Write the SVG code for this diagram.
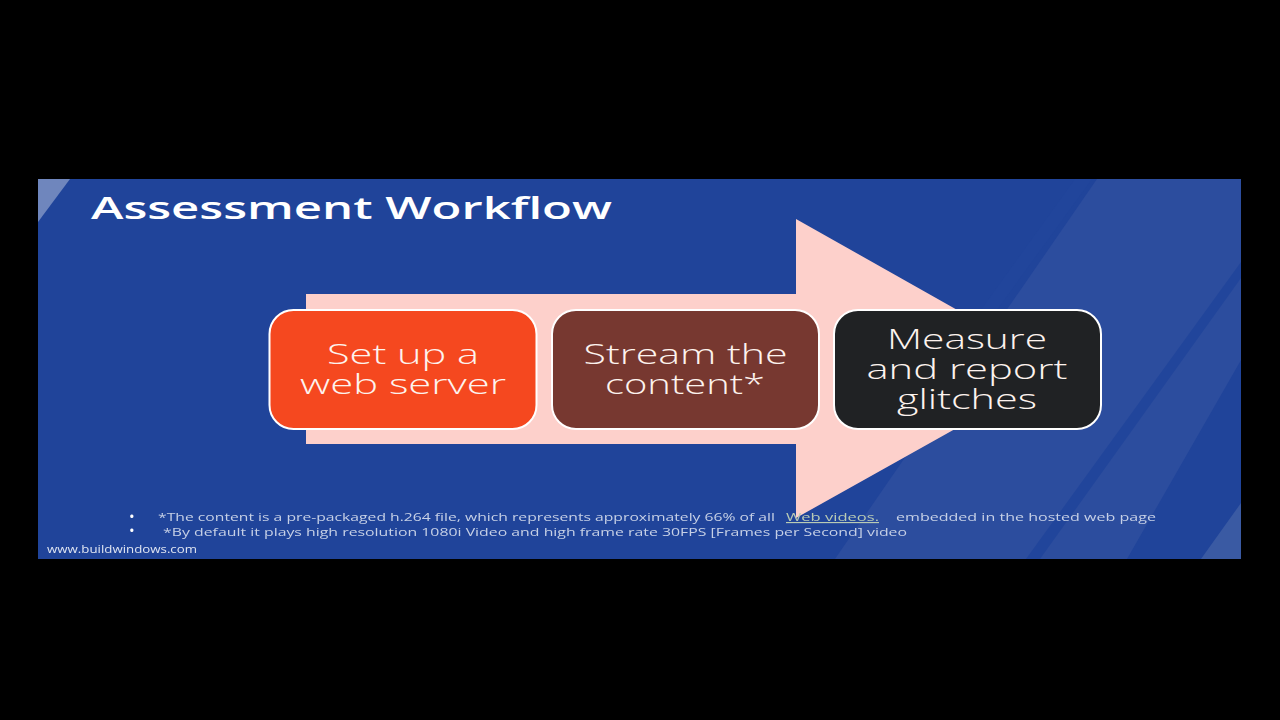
<svg xmlns="http://www.w3.org/2000/svg" width="1280" height="720" viewBox="0 0 1280 720">
<style>
.n{font-family:"Open Sans","Liberation Sans",sans-serif;font-weight:300;font-size:27px;fill:#fdf3ee;text-anchor:middle}
.box{stroke:#fff;stroke-width:2}
.f{font-family:"Open Sans","Liberation Sans",sans-serif;font-size:11.5px;fill:#c6d0e6}
.b{font-family:"Open Sans","Liberation Sans",sans-serif;font-size:15px;fill:#fff}
.s{fill:#2c4d9e}
.d{fill:#21459b}
</style>
<defs><clipPath id="slide"><rect x="38" y="179" width="1203" height="380"/></clipPath><filter id="soft"><feGaussianBlur stdDeviation="0.35"/></filter></defs>
<rect width="1280" height="720" fill="#000"/>
<rect x="38" y="179" width="1203" height="380" fill="#20449a"/>
<g clip-path="url(#slide)">
<polygon class="s" points="1097,179 1241,179 1241,360 1127,559 835,559"/>
<polygon class="d" points="1241,262 1241,278 1040,559 1026,559"/>
<polygon class="d" points="1075,179 1092,179 968,350 952,350"/>
<polygon fill="#3a5aa3" points="1241,503 1241,559 1201,559"/>
<polygon fill="#6f86bd" points="38,179 70,179 38,222"/>
</g>
<g id="connectors"><polygon fill="#fdd0cb" points="306,294 796,294 796,219 1062,369 796,518 796,444 306,444"/></g>
<g id="node-1"><rect class="box" x="269.500" y="310" width="267" height="119" rx="24" fill="#f5481f"/>
<text class="n" x="403" y="364" textLength="152" lengthAdjust="spacingAndGlyphs">Set up a</text>
<text class="n" x="403" y="394" textLength="206" lengthAdjust="spacingAndGlyphs">web server</text></g>
<g id="node-2"><rect class="box" x="552" y="310" width="267" height="119" rx="24" fill="#773830"/>
<text class="n" x="685.500" y="364" textLength="204" lengthAdjust="spacingAndGlyphs">Stream the</text>
<text class="n" x="685" y="394" textLength="160" lengthAdjust="spacingAndGlyphs">content*</text></g>
<g id="node-3"><rect class="box" x="834" y="310" width="267" height="119" rx="24" fill="#202224"/>
<text class="n" x="967" y="349" textLength="160" lengthAdjust="spacingAndGlyphs">Measure</text>
<text class="n" x="967" y="379" textLength="201" lengthAdjust="spacingAndGlyphs">and report</text>
<text class="n" x="967" y="409" textLength="140" lengthAdjust="spacingAndGlyphs">glitches</text></g>
<g id="title"><text x="91" y="219" font-family="Open Sans,Liberation Sans,sans-serif" font-size="31" font-weight="600" fill="#fff" textLength="521" lengthAdjust="spacingAndGlyphs">Assessment Workflow</text></g>
<g id="notes" filter="url(#soft)">
<text class="b" x="129" y="522">•</text>
<text class="b" x="129" y="536">•</text>
<text class="f" x="158" y="521" textLength="617" lengthAdjust="spacingAndGlyphs">*The content is a pre-packaged h.264 file, which represents approximately 66% of all</text>
<text class="f" x="786" y="521" style="fill:#b9cbb4" text-decoration="underline" textLength="93" lengthAdjust="spacingAndGlyphs">Web videos.</text>
<text class="f" x="896" y="521" textLength="260" lengthAdjust="spacingAndGlyphs">embedded in the hosted web page</text>
<text class="f" x="163" y="535.500" textLength="744" lengthAdjust="spacingAndGlyphs">*By default it plays high resolution 1080i Video and high frame rate 30FPS [Frames per Second] video</text>
<text x="47" y="553" font-family="Open Sans,Liberation Sans,sans-serif" font-size="10.500" fill="#dfe5f2" textLength="150" lengthAdjust="spacingAndGlyphs">www.buildwindows.com</text>
</g>
</svg>
